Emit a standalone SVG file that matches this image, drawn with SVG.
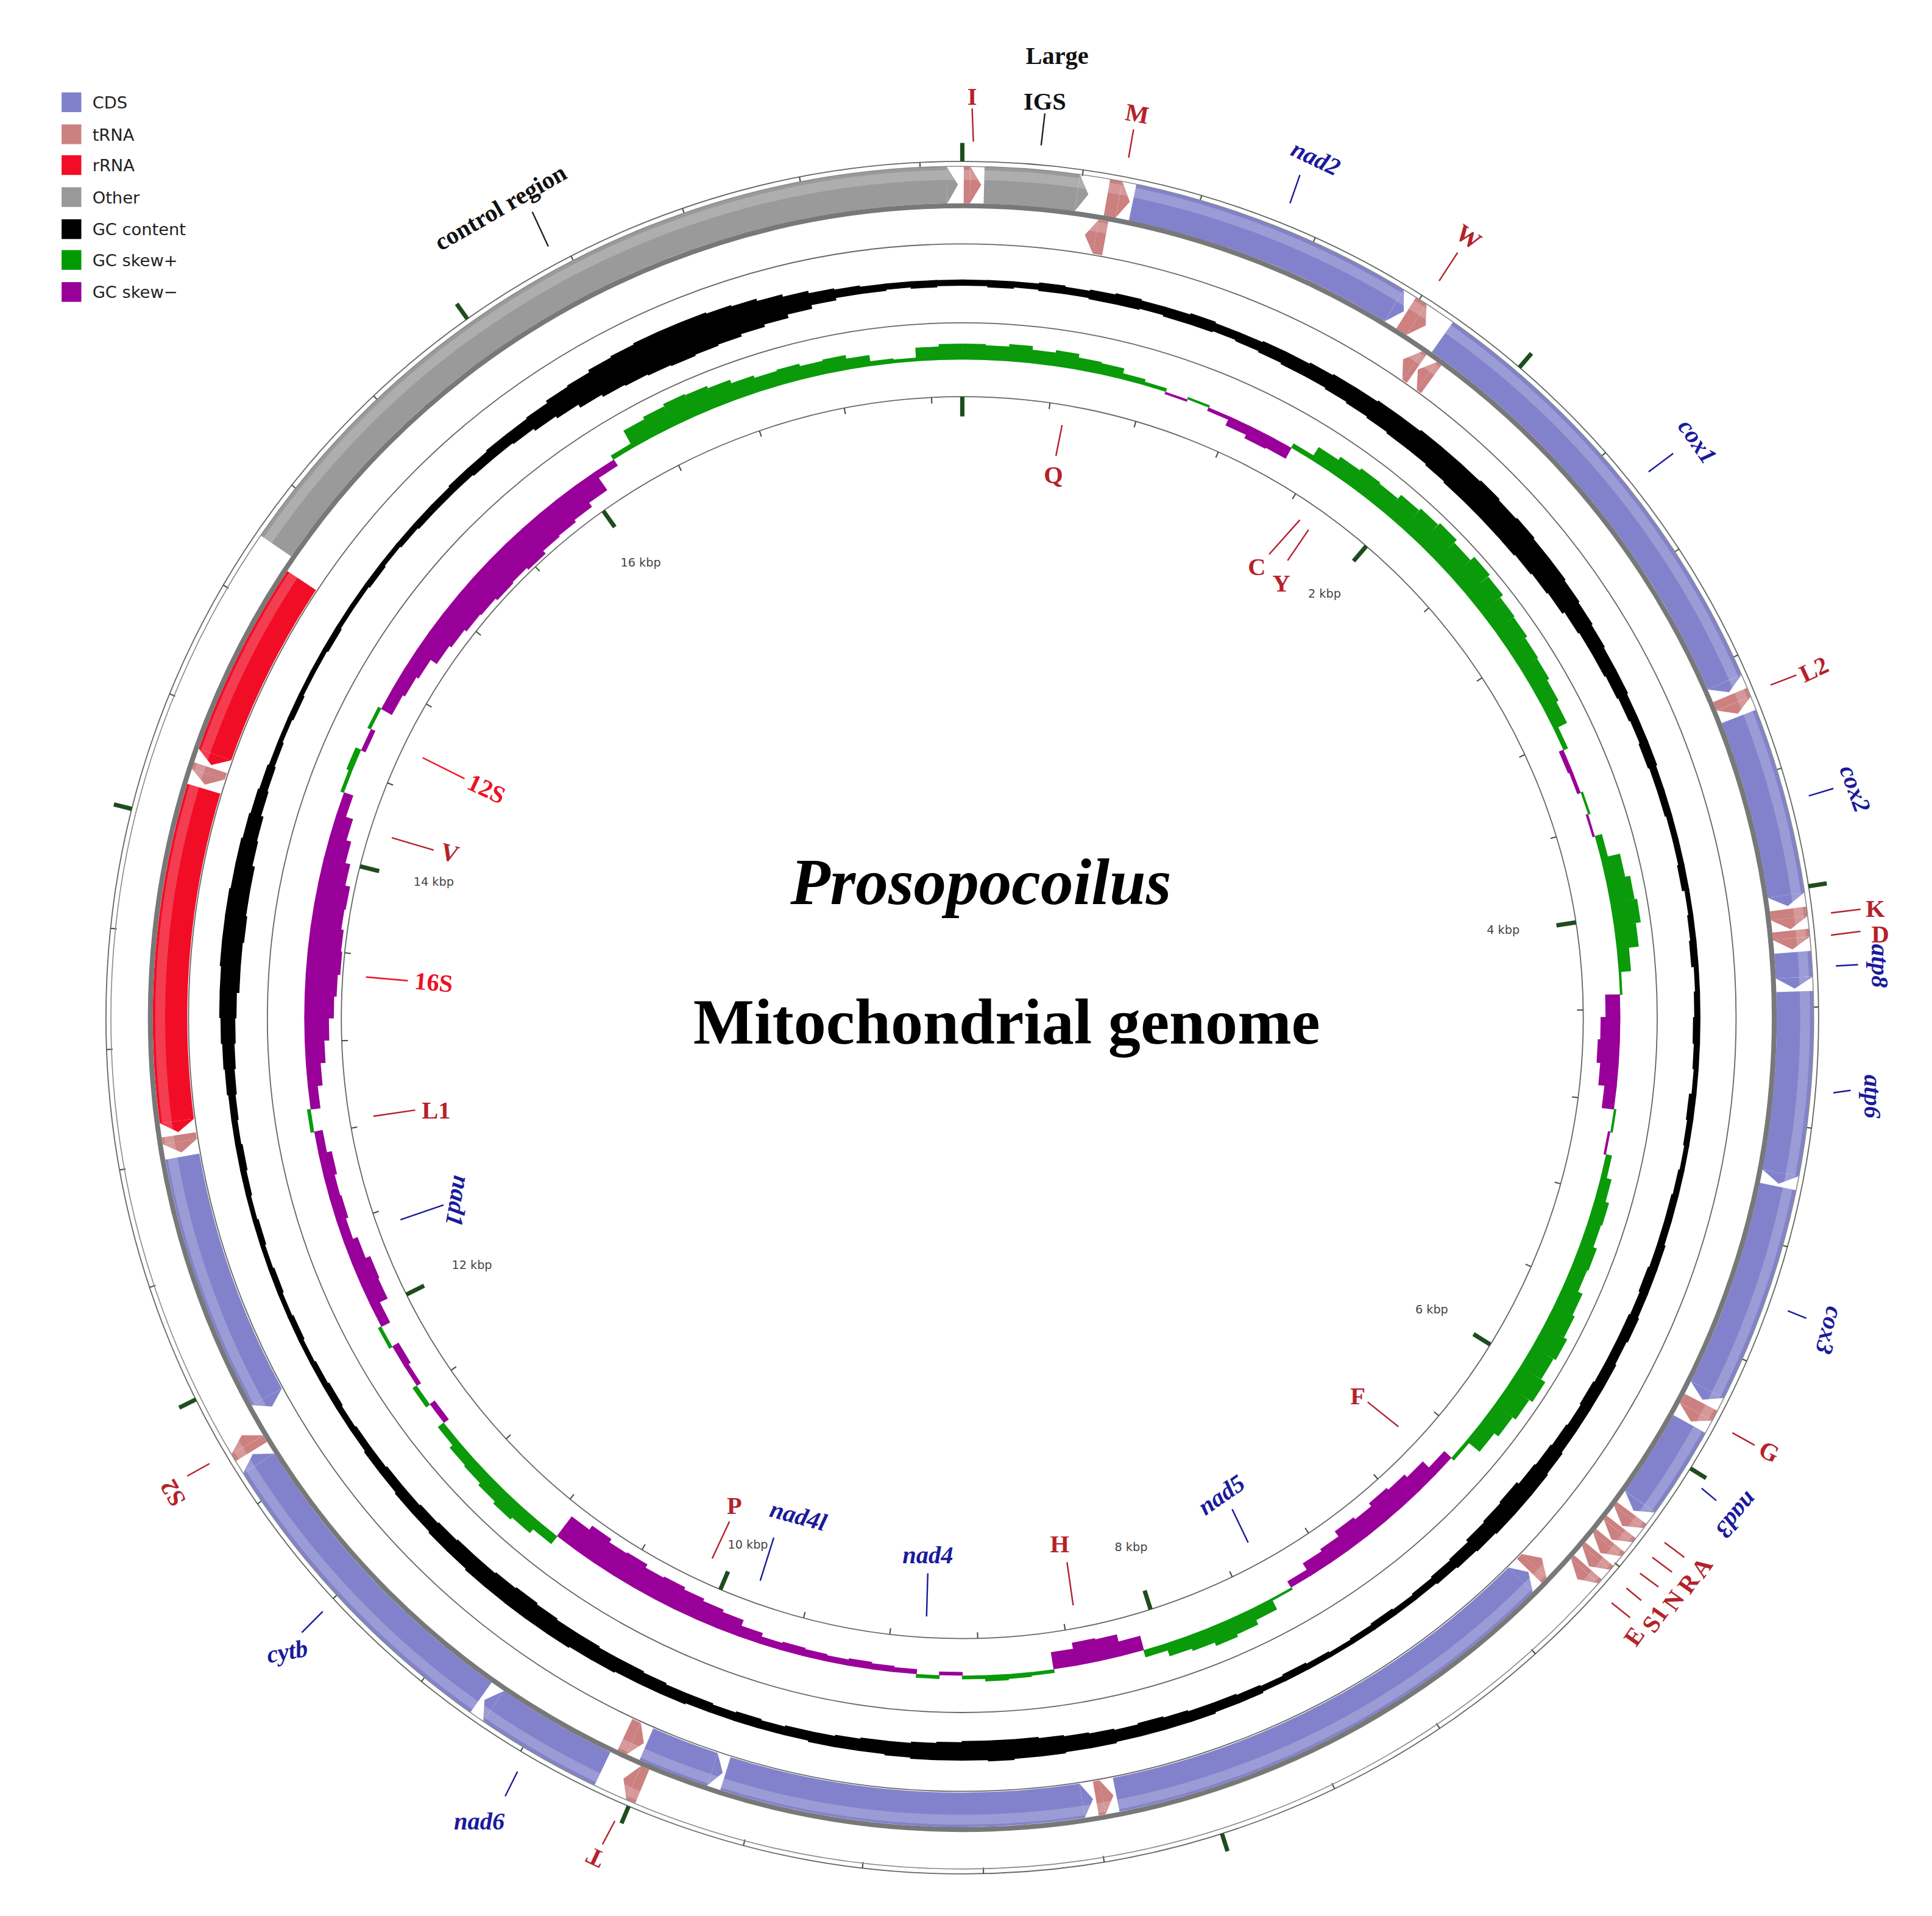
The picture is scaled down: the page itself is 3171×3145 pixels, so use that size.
<svg xmlns="http://www.w3.org/2000/svg" width="3171" height="3145" viewBox="0 0 3171 3145">
<style>
.ring{fill:none;stroke:#666;stroke-width:0.9}
.gc rect{x:-10.8px;width:21.6px;fill:#000}
.sk rect{x:-9.6px;width:19.2px}
.p{fill:#0a9a0a}.m{fill:#990099}
#features circle{fill:none;stroke-width:30}
#features circle.rev{stroke-width:28}
#features circle.cds{stroke:#8282cc}#features circle.trna{stroke:#cc8080}#features circle.rrna{stroke:#f20d26}#features circle.oth{stroke:#9a9a9a}
.cds{fill:#8282cc}.trna{fill:#cc8080}.rrna{fill:#f20d26}.oth{fill:#9a9a9a}
.lb{font-family:"Liberation Serif",serif;font-weight:bold;font-size:20px;text-anchor:middle}
.tr{fill:#b5222b}.cd{fill:#1a1a9c;font-style:italic}.rr{fill:#ee1122}.bk{fill:#111}
.kb{font-family:"DejaVu Sans",sans-serif;font-size:9.5px;fill:#444;text-anchor:middle}
.lg{font-family:"DejaVu Sans",sans-serif;font-size:13.5px;fill:#222}
#connectors line{stroke-width:1.2}
.ct{stroke:#b5222b}.cc{stroke:#1a1a9c}.cr{stroke:#ee1122}.ck{stroke:#222}
.tmaj{stroke:#1d4d1d;stroke-width:3.5}.tmin{stroke:#2d5a2d;stroke-width:1}
</style>
<defs>
<polygon id="tf" points="0,-691 9,-676 0,-661"/>
<polygon id="tr" points="0,-657 -9,-643 0,-629"/>
<line id="imj" class="tmaj" x1="0" y1="-504" x2="0" y2="-488"/>
<line id="imn" class="tmin" x1="0" y1="-504" x2="0" y2="-499"/>
<line id="omj" class="tmaj" x1="0" y1="-695" x2="0" y2="-710"/>
<line id="omn" class="tmin" x1="0" y1="-695" x2="0" y2="-690"/>
</defs>
<rect width="3171" height="3145" fill="#fff"/>
<g transform="scale(2.0223)">
<g id="legend">
<rect x="50" y="75" width="16" height="16" fill="#8080cc"/><text class="lg" x="75" y="88">CDS</text>
<rect x="50" y="101" width="16" height="16" fill="#cc8080"/><text class="lg" x="75" y="114">tRNA</text>
<rect x="50" y="126" width="16" height="16" fill="#f20c26"/><text class="lg" x="75" y="139">rRNA</text>
<rect x="50" y="152" width="16" height="16" fill="#999"/><text class="lg" x="75" y="165">Other</text>
<rect x="50" y="178" width="16" height="16" fill="#000"/><text class="lg" x="75" y="191">GC content</text>
<rect x="50" y="203" width="16" height="16" fill="#009900"/><text class="lg" x="75" y="216">GC skew+</text>
<rect x="50" y="229" width="16" height="16" fill="#990099"/><text class="lg" x="75" y="242">GC skew−</text>
</g>
<g id="rings" transform="translate(781,826)">
<circle class="ring" r="695"/>
<circle class="ring" r="628"/>
<circle class="ring" r="564"/>
<circle class="ring" r="504"/>
</g>
<g id="gc-content" class="gc" transform="translate(781,826)">
<rect transform="rotate(1)" y="-599" height="5"/><rect transform="rotate(3)" y="-599" height="6"/><rect transform="rotate(5)" y="-599" height="5"/><rect transform="rotate(7)" y="-600" height="7"/><rect transform="rotate(9)" y="-599" height="6"/>
<rect transform="rotate(11)" y="-600" height="8"/><rect transform="rotate(13)" y="-601" height="9"/><rect transform="rotate(15)" y="-600" height="7"/><rect transform="rotate(17)" y="-600" height="8"/><rect transform="rotate(19)" y="-601" height="9"/><rect transform="rotate(21)" y="-600" height="7"/><rect transform="rotate(23)" y="-600" height="8"/><rect transform="rotate(25)" y="-601" height="10"/><rect transform="rotate(27)" y="-601" height="11"/><rect transform="rotate(29)" y="-602" height="12"/>
<rect transform="rotate(31)" y="-603" height="14"/><rect transform="rotate(33)" y="-603" height="15"/><rect transform="rotate(35)" y="-604" height="17"/><rect transform="rotate(37)" y="-604" height="18"/><rect transform="rotate(39)" y="-605" height="19"/><rect transform="rotate(41)" y="-605" height="20"/><rect transform="rotate(43)" y="-605" height="21"/><rect transform="rotate(45)" y="-606" height="22"/><rect transform="rotate(47)" y="-605" height="21"/><rect transform="rotate(49)" y="-606" height="22"/><rect transform="rotate(51)" y="-605" height="20"/><rect transform="rotate(53)" y="-605" height="19"/><rect transform="rotate(55)" y="-604" height="17"/>
<rect transform="rotate(57)" y="-603" height="14"/><rect transform="rotate(59)" y="-602" height="12"/><rect transform="rotate(61)" y="-601" height="11"/><rect transform="rotate(63)" y="-601" height="10"/><rect transform="rotate(65)" y="-600" height="8"/><rect transform="rotate(67)" y="-600" height="7"/><rect transform="rotate(69)" y="-600" height="8"/><rect transform="rotate(71)" y="-599" height="6"/><rect transform="rotate(73)" y="-599" height="6"/><rect transform="rotate(75)" y="-599" height="5"/>
<rect transform="rotate(77)" y="-599" height="5"/><rect transform="rotate(79)" y="-599" height="6"/><rect transform="rotate(81)" y="-599" height="4"/><rect transform="rotate(83)" y="-599" height="5"/><rect transform="rotate(85)" y="-599" height="6"/><rect transform="rotate(87)" y="-599" height="4"/><rect transform="rotate(89)" y="-599" height="5"/><rect transform="rotate(91)" y="-599" height="6"/><rect transform="rotate(93)" y="-599" height="5"/><rect transform="rotate(95)" y="-599" height="4"/><rect transform="rotate(97)" y="-599" height="6"/><rect transform="rotate(99)" y="-599" height="5"/><rect transform="rotate(101)" y="-599" height="4"/><rect transform="rotate(103)" y="-599" height="5"/><rect transform="rotate(105)" y="-599" height="6"/>
<rect transform="rotate(107)" y="-599" height="6"/><rect transform="rotate(109)" y="-600" height="7"/><rect transform="rotate(111)" y="-600" height="8"/><rect transform="rotate(113)" y="-600" height="7"/><rect transform="rotate(115)" y="-601" height="9"/><rect transform="rotate(117)" y="-600" height="8"/><rect transform="rotate(119)" y="-601" height="9"/><rect transform="rotate(121)" y="-601" height="10"/><rect transform="rotate(123)" y="-601" height="9"/><rect transform="rotate(125)" y="-601" height="10"/>
<rect transform="rotate(127)" y="-602" height="12"/><rect transform="rotate(129)" y="-603" height="14"/><rect transform="rotate(131)" y="-603" height="16"/><rect transform="rotate(133)" y="-603" height="15"/><rect transform="rotate(135)" y="-602" height="13"/><rect transform="rotate(137)" y="-601" height="10"/><rect transform="rotate(139)" y="-600" height="8"/>
<rect transform="rotate(141)" y="-599" height="6"/><rect transform="rotate(143)" y="-599" height="5"/><rect transform="rotate(145)" y="-599" height="6"/><rect transform="rotate(147)" y="-599" height="5"/><rect transform="rotate(149)" y="-599" height="4"/><rect transform="rotate(151)" y="-599" height="5"/><rect transform="rotate(153)" y="-599" height="6"/><rect transform="rotate(155)" y="-599" height="5"/><rect transform="rotate(157)" y="-600" height="7"/><rect transform="rotate(159)" y="-600" height="8"/><rect transform="rotate(161)" y="-601" height="9"/>
<rect transform="rotate(163)" y="-601" height="10"/><rect transform="rotate(165)" y="-601" height="11"/><rect transform="rotate(167)" y="-601" height="10"/><rect transform="rotate(169)" y="-602" height="12"/><rect transform="rotate(171)" y="-602" height="13"/><rect transform="rotate(173)" y="-603" height="15"/><rect transform="rotate(175)" y="-603" height="16"/><rect transform="rotate(177)" y="-604" height="17"/><rect transform="rotate(179)" y="-603" height="16"/><rect transform="rotate(181)" y="-603" height="15"/><rect transform="rotate(183)" y="-603" height="14"/><rect transform="rotate(185)" y="-602" height="12"/><rect transform="rotate(187)" y="-601" height="11"/><rect transform="rotate(189)" y="-601" height="10"/>
<rect transform="rotate(191)" y="-601" height="9"/><rect transform="rotate(193)" y="-600" height="8"/><rect transform="rotate(195)" y="-600" height="7"/><rect transform="rotate(197)" y="-600" height="8"/><rect transform="rotate(199)" y="-600" height="7"/><rect transform="rotate(201)" y="-600" height="8"/><rect transform="rotate(203)" y="-601" height="9"/><rect transform="rotate(205)" y="-601" height="10"/><rect transform="rotate(207)" y="-601" height="11"/><rect transform="rotate(209)" y="-602" height="12"/><rect transform="rotate(211)" y="-602" height="13"/><rect transform="rotate(213)" y="-603" height="14"/>
<rect transform="rotate(215)" y="-603" height="15"/><rect transform="rotate(217)" y="-603" height="16"/><rect transform="rotate(219)" y="-603" height="15"/><rect transform="rotate(221)" y="-603" height="14"/><rect transform="rotate(223)" y="-602" height="13"/><rect transform="rotate(225)" y="-602" height="12"/><rect transform="rotate(227)" y="-601" height="10"/><rect transform="rotate(229)" y="-601" height="9"/><rect transform="rotate(231)" y="-600" height="8"/><rect transform="rotate(233)" y="-600" height="7"/>
<rect transform="rotate(235)" y="-599" height="6"/><rect transform="rotate(237)" y="-599" height="5"/><rect transform="rotate(239)" y="-599" height="6"/><rect transform="rotate(241)" y="-599" height="5"/><rect transform="rotate(243)" y="-599" height="4"/><rect transform="rotate(245)" y="-599" height="5"/><rect transform="rotate(247)" y="-599" height="4"/><rect transform="rotate(249)" y="-599" height="5"/><rect transform="rotate(251)" y="-599" height="4"/><rect transform="rotate(253)" y="-599" height="5"/><rect transform="rotate(255)" y="-599" height="4"/><rect transform="rotate(257)" y="-599" height="5"/><rect transform="rotate(259)" y="-599" height="6"/><rect transform="rotate(261)" y="-599" height="5"/><rect transform="rotate(263)" y="-599" height="6"/>
<rect transform="rotate(265)" y="-600" height="8"/><rect transform="rotate(267)" y="-601" height="10"/><rect transform="rotate(269)" y="-602" height="12"/><rect transform="rotate(271)" y="-603" height="14"/><rect transform="rotate(273)" y="-603" height="16"/><rect transform="rotate(275)" y="-604" height="17"/><rect transform="rotate(277)" y="-604" height="18"/><rect transform="rotate(279)" y="-604" height="17"/><rect transform="rotate(281)" y="-603" height="16"/><rect transform="rotate(283)" y="-603" height="14"/><rect transform="rotate(285)" y="-602" height="12"/><rect transform="rotate(287)" y="-601" height="9"/><rect transform="rotate(289)" y="-600" height="7"/>
<rect transform="rotate(291)" y="-599" height="5"/><rect transform="rotate(293)" y="-599" height="4"/><rect transform="rotate(295)" y="-599" height="5"/><rect transform="rotate(297)" y="-599" height="4"/><rect transform="rotate(299)" y="-599" height="4"/><rect transform="rotate(301)" y="-599" height="5"/><rect transform="rotate(303)" y="-599" height="4"/><rect transform="rotate(305)" y="-599" height="4"/><rect transform="rotate(307)" y="-599" height="5"/><rect transform="rotate(309)" y="-599" height="4"/><rect transform="rotate(311)" y="-599" height="5"/><rect transform="rotate(313)" y="-599" height="6"/><rect transform="rotate(315)" y="-599" height="6"/><rect transform="rotate(317)" y="-600" height="7"/><rect transform="rotate(319)" y="-600" height="8"/><rect transform="rotate(321)" y="-601" height="9"/><rect transform="rotate(323)" y="-601" height="10"/>
<rect transform="rotate(325)" y="-602" height="13"/><rect transform="rotate(327)" y="-604" height="17"/><rect transform="rotate(329)" y="-605" height="21"/><rect transform="rotate(331)" y="-607" height="25"/><rect transform="rotate(333)" y="-608" height="27"/><rect transform="rotate(335)" y="-609" height="29"/><rect transform="rotate(337)" y="-609" height="30"/><rect transform="rotate(339)" y="-609" height="29"/><rect transform="rotate(341)" y="-608" height="27"/><rect transform="rotate(343)" y="-607" height="24"/><rect transform="rotate(345)" y="-605" height="20"/><rect transform="rotate(347)" y="-603" height="15"/><rect transform="rotate(349)" y="-601" height="10"/><rect transform="rotate(351)" y="-600" height="7"/><rect transform="rotate(353)" y="-599" height="6"/><rect transform="rotate(355)" y="-599" height="5"/><rect transform="rotate(357)" y="-599" height="6"/><rect transform="rotate(359)" y="-599" height="5"/>
</g>
<g id="gc-skew" class="sk" transform="translate(781,826)">
<rect class="p" transform="rotate(1)" y="-547" height="13"/><rect class="p" transform="rotate(3)" y="-546" height="12"/><rect class="p" transform="rotate(5)" y="-548" height="14"/><rect class="p" transform="rotate(7)" y="-545" height="11"/><rect class="p" transform="rotate(9)" y="-547" height="13"/><rect class="p" transform="rotate(11)" y="-544" height="10"/><rect class="p" transform="rotate(13)" y="-543" height="9"/><rect class="p" transform="rotate(15)" y="-539" height="5"/><rect class="p" transform="rotate(17)" y="-537" height="3"/><rect class="m" transform="rotate(19)" y="-534" height="2"/><rect class="p" transform="rotate(21)" y="-536" height="2"/><rect class="m" transform="rotate(23)" y="-534" height="3"/><rect class="m" transform="rotate(25)" y="-534" height="8"/><rect class="m" transform="rotate(27)" y="-534" height="11"/><rect class="m" transform="rotate(29)" y="-534" height="10"/><rect class="p" transform="rotate(31)" y="-538" height="4"/><rect class="p" transform="rotate(33)" y="-546" height="12"/><rect class="p" transform="rotate(35)" y="-549" height="15"/><rect class="p" transform="rotate(37)" y="-551" height="17"/><rect class="p" transform="rotate(39)" y="-550" height="16"/><rect class="p" transform="rotate(41)" y="-554" height="20"/><rect class="p" transform="rotate(43)" y="-556" height="22"/><rect class="p" transform="rotate(45)" y="-558" height="24"/><rect class="p" transform="rotate(47)" y="-555" height="21"/><rect class="p" transform="rotate(49)" y="-559" height="25"/><rect class="p" transform="rotate(51)" y="-557" height="23"/><rect class="p" transform="rotate(53)" y="-554" height="20"/><rect class="p" transform="rotate(55)" y="-553" height="19"/><rect class="p" transform="rotate(57)" y="-551" height="17"/><rect class="p" transform="rotate(59)" y="-550" height="16"/><rect class="p" transform="rotate(61)" y="-548" height="14"/><rect class="p" transform="rotate(63)" y="-546" height="12"/><rect class="p" transform="rotate(65)" y="-538" height="4"/><rect class="m" transform="rotate(67)" y="-534" height="4"/><rect class="m" transform="rotate(69)" y="-534" height="3"/><rect class="p" transform="rotate(71)" y="-536" height="2"/><rect class="m" transform="rotate(73)" y="-534" height="2"/><rect class="p" transform="rotate(75)" y="-540" height="6"/><rect class="p" transform="rotate(77)" y="-550" height="16"/><rect class="p" transform="rotate(79)" y="-554" height="20"/><rect class="p" transform="rotate(81)" y="-556" height="22"/><rect class="p" transform="rotate(83)" y="-552" height="18"/><rect class="p" transform="rotate(85)" y="-544" height="10"/><rect class="p" transform="rotate(87)" y="-536" height="2"/><rect class="m" transform="rotate(89)" y="-534" height="12"/><rect class="m" transform="rotate(91)" y="-534" height="16"/><rect class="m" transform="rotate(93)" y="-534" height="18"/><rect class="m" transform="rotate(95)" y="-534" height="15"/><rect class="m" transform="rotate(97)" y="-534" height="10"/><rect class="p" transform="rotate(99)" y="-536" height="2"/><rect class="m" transform="rotate(101)" y="-534" height="2"/><rect class="p" transform="rotate(103)" y="-539" height="5"/><rect class="p" transform="rotate(105)" y="-543" height="9"/><rect class="p" transform="rotate(107)" y="-546" height="12"/><rect class="p" transform="rotate(109)" y="-545" height="11"/><rect class="p" transform="rotate(111)" y="-548" height="14"/><rect class="p" transform="rotate(113)" y="-547" height="13"/><rect class="p" transform="rotate(115)" y="-551" height="17"/><rect class="p" transform="rotate(117)" y="-553" height="19"/><rect class="p" transform="rotate(119)" y="-556" height="22"/><rect class="p" transform="rotate(121)" y="-554" height="20"/><rect class="p" transform="rotate(123)" y="-558" height="24"/><rect class="p" transform="rotate(125)" y="-555" height="21"/><rect class="p" transform="rotate(127)" y="-552" height="18"/><rect class="p" transform="rotate(129)" y="-548" height="14"/><rect class="p" transform="rotate(131)" y="-537" height="3"/><rect class="m" transform="rotate(133)" y="-534" height="8"/><rect class="m" transform="rotate(135)" y="-534" height="15"/><rect class="m" transform="rotate(137)" y="-534" height="18"/><rect class="m" transform="rotate(139)" y="-534" height="20"/><rect class="m" transform="rotate(141)" y="-534" height="17"/><rect class="m" transform="rotate(143)" y="-534" height="19"/><rect class="m" transform="rotate(145)" y="-534" height="14"/><rect class="m" transform="rotate(147)" y="-534" height="12"/><rect class="m" transform="rotate(149)" y="-534" height="6"/><rect class="p" transform="rotate(151)" y="-536" height="2"/><rect class="p" transform="rotate(153)" y="-544" height="10"/><rect class="p" transform="rotate(155)" y="-548" height="14"/><rect class="p" transform="rotate(157)" y="-550" height="16"/><rect class="p" transform="rotate(159)" y="-547" height="13"/><rect class="p" transform="rotate(161)" y="-545" height="11"/><rect class="p" transform="rotate(163)" y="-540" height="6"/><rect class="m" transform="rotate(165)" y="-534" height="12"/><rect class="m" transform="rotate(167)" y="-534" height="18"/><rect class="m" transform="rotate(169)" y="-534" height="19"/><rect class="m" transform="rotate(171)" y="-534" height="14"/><rect class="p" transform="rotate(173)" y="-537" height="3"/><rect class="p" transform="rotate(175)" y="-538" height="4"/><rect class="p" transform="rotate(177)" y="-539" height="5"/><rect class="p" transform="rotate(179)" y="-537" height="3"/><rect class="m" transform="rotate(181)" y="-534" height="3"/><rect class="p" transform="rotate(183)" y="-537" height="3"/><rect class="m" transform="rotate(185)" y="-534" height="4"/><rect class="m" transform="rotate(187)" y="-534" height="5"/><rect class="m" transform="rotate(189)" y="-534" height="6"/><rect class="m" transform="rotate(191)" y="-534" height="5"/><rect class="m" transform="rotate(193)" y="-534" height="6"/><rect class="m" transform="rotate(195)" y="-534" height="7"/><rect class="m" transform="rotate(197)" y="-534" height="6"/><rect class="m" transform="rotate(199)" y="-534" height="9"/><rect class="m" transform="rotate(201)" y="-534" height="14"/><rect class="m" transform="rotate(203)" y="-534" height="16"/><rect class="m" transform="rotate(205)" y="-534" height="18"/><rect class="m" transform="rotate(207)" y="-534" height="20"/><rect class="m" transform="rotate(209)" y="-534" height="19"/><rect class="m" transform="rotate(211)" y="-534" height="22"/><rect class="m" transform="rotate(213)" y="-534" height="21"/><rect class="m" transform="rotate(215)" y="-534" height="24"/><rect class="m" transform="rotate(217)" y="-534" height="20"/><rect class="p" transform="rotate(219)" y="-542" height="8"/><rect class="p" transform="rotate(221)" y="-546" height="12"/><rect class="p" transform="rotate(223)" y="-548" height="14"/><rect class="p" transform="rotate(225)" y="-546" height="12"/><rect class="p" transform="rotate(227)" y="-544" height="10"/><rect class="p" transform="rotate(229)" y="-543" height="9"/><rect class="p" transform="rotate(231)" y="-540" height="6"/><rect class="m" transform="rotate(233)" y="-534" height="5"/><rect class="p" transform="rotate(235)" y="-538" height="4"/><rect class="m" transform="rotate(237)" y="-534" height="4"/><rect class="m" transform="rotate(239)" y="-534" height="6"/><rect class="p" transform="rotate(241)" y="-537" height="3"/><rect class="m" transform="rotate(243)" y="-534" height="8"/><rect class="m" transform="rotate(245)" y="-534" height="15"/><rect class="m" transform="rotate(247)" y="-534" height="16"/><rect class="m" transform="rotate(249)" y="-534" height="12"/><rect class="m" transform="rotate(251)" y="-534" height="8"/><rect class="m" transform="rotate(253)" y="-534" height="10"/><rect class="m" transform="rotate(255)" y="-534" height="9"/><rect class="m" transform="rotate(257)" y="-534" height="11"/><rect class="m" transform="rotate(259)" y="-534" height="7"/><rect class="p" transform="rotate(261)" y="-537" height="3"/><rect class="m" transform="rotate(263)" y="-534" height="8"/><rect class="m" transform="rotate(265)" y="-534" height="12"/><rect class="m" transform="rotate(267)" y="-534" height="16"/><rect class="m" transform="rotate(269)" y="-534" height="20"/><rect class="m" transform="rotate(271)" y="-534" height="24"/><rect class="m" transform="rotate(273)" y="-534" height="26"/><rect class="m" transform="rotate(275)" y="-534" height="28"/><rect class="m" transform="rotate(277)" y="-534" height="27"/><rect class="m" transform="rotate(279)" y="-534" height="25"/><rect class="m" transform="rotate(281)" y="-534" height="26"/><rect class="m" transform="rotate(283)" y="-534" height="22"/><rect class="m" transform="rotate(285)" y="-534" height="18"/><rect class="m" transform="rotate(287)" y="-534" height="14"/><rect class="m" transform="rotate(289)" y="-534" height="8"/><rect class="p" transform="rotate(291)" y="-537" height="3"/><rect class="p" transform="rotate(293)" y="-539" height="5"/><rect class="m" transform="rotate(295)" y="-534" height="4"/><rect class="p" transform="rotate(297)" y="-537" height="3"/><rect class="m" transform="rotate(299)" y="-534" height="10"/><rect class="m" transform="rotate(301)" y="-534" height="12"/><rect class="m" transform="rotate(303)" y="-534" height="14"/><rect class="m" transform="rotate(305)" y="-534" height="20"/><rect class="m" transform="rotate(307)" y="-534" height="22"/><rect class="m" transform="rotate(309)" y="-534" height="24"/><rect class="m" transform="rotate(311)" y="-534" height="25"/><rect class="m" transform="rotate(313)" y="-534" height="27"/><rect class="m" transform="rotate(315)" y="-534" height="26"/><rect class="m" transform="rotate(317)" y="-534" height="28"/><rect class="m" transform="rotate(319)" y="-534" height="25"/><rect class="m" transform="rotate(321)" y="-534" height="24"/><rect class="m" transform="rotate(323)" y="-534" height="22"/><rect class="m" transform="rotate(325)" y="-534" height="18"/><rect class="m" transform="rotate(327)" y="-534" height="6"/><rect class="p" transform="rotate(329)" y="-538" height="4"/><rect class="p" transform="rotate(331)" y="-550" height="16"/><rect class="p" transform="rotate(333)" y="-552" height="18"/><rect class="p" transform="rotate(335)" y="-554" height="20"/><rect class="p" transform="rotate(337)" y="-553" height="19"/><rect class="p" transform="rotate(339)" y="-551" height="17"/><rect class="p" transform="rotate(341)" y="-548" height="14"/><rect class="p" transform="rotate(343)" y="-546" height="12"/><rect class="p" transform="rotate(345)" y="-547" height="13"/><rect class="p" transform="rotate(347)" y="-545" height="11"/><rect class="p" transform="rotate(349)" y="-546" height="12"/><rect class="p" transform="rotate(351)" y="-543" height="9"/><rect class="p" transform="rotate(353)" y="-538" height="4"/><rect class="p" transform="rotate(355)" y="-537" height="3"/><rect class="p" transform="rotate(357)" y="-545" height="11"/><rect class="p" transform="rotate(359)" y="-547" height="13"/>
</g>
<g id="ticks-inner" transform="translate(781,826)">
<use href="#imj"/><use href="#imj" transform="rotate(40.59)"/><use href="#imj" transform="rotate(81.17)"/><use href="#imj" transform="rotate(121.76)"/><use href="#imj" transform="rotate(162.35)"/><use href="#imj" transform="rotate(202.93)"/><use href="#imj" transform="rotate(243.52)"/><use href="#imj" transform="rotate(284.11)"/><use href="#imj" transform="rotate(324.69)"/>
<use href="#imn" transform="rotate(8.12)"/><use href="#imn" transform="rotate(16.23)"/><use href="#imn" transform="rotate(24.35)"/><use href="#imn" transform="rotate(32.47)"/><use href="#imn" transform="rotate(48.7)"/><use href="#imn" transform="rotate(56.82)"/><use href="#imn" transform="rotate(64.94)"/><use href="#imn" transform="rotate(73.06)"/><use href="#imn" transform="rotate(89.29)"/><use href="#imn" transform="rotate(97.41)"/><use href="#imn" transform="rotate(105.52)"/><use href="#imn" transform="rotate(113.64)"/><use href="#imn" transform="rotate(129.88)"/><use href="#imn" transform="rotate(137.99)"/><use href="#imn" transform="rotate(146.11)"/><use href="#imn" transform="rotate(154.23)"/><use href="#imn" transform="rotate(170.46)"/><use href="#imn" transform="rotate(178.58)"/><use href="#imn" transform="rotate(186.7)"/><use href="#imn" transform="rotate(194.81)"/><use href="#imn" transform="rotate(211.05)"/><use href="#imn" transform="rotate(219.17)"/><use href="#imn" transform="rotate(227.28)"/><use href="#imn" transform="rotate(235.4)"/><use href="#imn" transform="rotate(251.64)"/><use href="#imn" transform="rotate(259.75)"/><use href="#imn" transform="rotate(267.87)"/><use href="#imn" transform="rotate(275.99)"/><use href="#imn" transform="rotate(292.22)"/><use href="#imn" transform="rotate(300.34)"/><use href="#imn" transform="rotate(308.46)"/><use href="#imn" transform="rotate(316.57)"/><use href="#imn" transform="rotate(332.81)"/><use href="#imn" transform="rotate(340.93)"/><use href="#imn" transform="rotate(349.04)"/><use href="#imn" transform="rotate(357.16)"/>
</g>
<g id="ticks-outer" transform="translate(781,826)">
<use href="#omj"/><use href="#omj" transform="rotate(40.59)"/><use href="#omj" transform="rotate(81.17)"/><use href="#omj" transform="rotate(121.76)"/><use href="#omj" transform="rotate(162.35)"/><use href="#omj" transform="rotate(202.93)"/><use href="#omj" transform="rotate(243.52)"/><use href="#omj" transform="rotate(284.11)"/><use href="#omj" transform="rotate(324.69)"/>
<use href="#omn" transform="rotate(8.12)"/><use href="#omn" transform="rotate(16.23)"/><use href="#omn" transform="rotate(24.35)"/><use href="#omn" transform="rotate(32.47)"/><use href="#omn" transform="rotate(48.7)"/><use href="#omn" transform="rotate(56.82)"/><use href="#omn" transform="rotate(64.94)"/><use href="#omn" transform="rotate(73.06)"/><use href="#omn" transform="rotate(89.29)"/><use href="#omn" transform="rotate(97.41)"/><use href="#omn" transform="rotate(105.52)"/><use href="#omn" transform="rotate(113.64)"/><use href="#omn" transform="rotate(129.88)"/><use href="#omn" transform="rotate(137.99)"/><use href="#omn" transform="rotate(146.11)"/><use href="#omn" transform="rotate(154.23)"/><use href="#omn" transform="rotate(170.46)"/><use href="#omn" transform="rotate(178.58)"/><use href="#omn" transform="rotate(186.7)"/><use href="#omn" transform="rotate(194.81)"/><use href="#omn" transform="rotate(211.05)"/><use href="#omn" transform="rotate(219.17)"/><use href="#omn" transform="rotate(227.28)"/><use href="#omn" transform="rotate(235.4)"/><use href="#omn" transform="rotate(251.64)"/><use href="#omn" transform="rotate(259.75)"/><use href="#omn" transform="rotate(267.87)"/><use href="#omn" transform="rotate(275.99)"/><use href="#omn" transform="rotate(292.22)"/><use href="#omn" transform="rotate(300.34)"/><use href="#omn" transform="rotate(308.46)"/><use href="#omn" transform="rotate(316.57)"/><use href="#omn" transform="rotate(332.81)"/><use href="#omn" transform="rotate(340.93)"/><use href="#omn" transform="rotate(349.04)"/><use href="#omn" transform="rotate(357.16)"/>
</g>
<g id="features" transform="translate(781,826)">
<g id="control-region"><circle class="oth" r="676" pathLength="360" stroke-dasharray="54.44 999" transform="rotate(214.5)"/><use href="#tf" class="oth" transform="rotate(358.94)"/></g>
<g id="trnI"><circle class="trna" r="676" pathLength="360" stroke-dasharray="0.44 999" transform="rotate(-89.9)"/><use href="#tf" class="trna" transform="rotate(0.54)"/></g>
<g id="large-IGS"><circle class="oth" r="676" pathLength="360" stroke-dasharray="6.44 999" transform="rotate(-88.5)"/><use href="#tf" class="oth" transform="rotate(7.94)"/></g>
<g id="trnM"><circle class="trna" r="676" pathLength="360" stroke-dasharray="0.84 999" transform="rotate(-80)"/><use href="#tf" class="trna" transform="rotate(10.84)"/></g>
<g id="trnQ"><circle class="trna rev" r="643" pathLength="360" stroke-dasharray="0.7 999" transform="rotate(-80.3)"/><use href="#tr" class="trna" transform="rotate(9.7)"/></g>
<g id="nad2"><circle class="cds" r="676" pathLength="360" stroke-dasharray="19.44 999" transform="rotate(-78.2)"/><use href="#tf" class="cds" transform="rotate(31.24)"/></g>
<g id="trnW"><circle class="trna" r="676" pathLength="360" stroke-dasharray="0.84 999" transform="rotate(-57.8)"/><use href="#tf" class="trna" transform="rotate(33.04)"/></g>
<g id="trnC"><circle class="trna rev" r="643" pathLength="360" stroke-dasharray="0.4 999" transform="rotate(-55.4)"/><use href="#tr" class="trna" transform="rotate(34.6)"/></g>
<g id="trnY"><circle class="trna rev" r="643" pathLength="360" stroke-dasharray="0.4 999" transform="rotate(-54.1)"/><use href="#tr" class="trna" transform="rotate(35.9)"/></g>
<g id="cox1"><circle class="cds" r="676" pathLength="360" stroke-dasharray="31.04 999" transform="rotate(-54.8)"/><use href="#tf" class="cds" transform="rotate(66.24)"/></g>
<g id="trnL2"><circle class="trna" r="676" pathLength="360" stroke-dasharray="0.64 999" transform="rotate(-22.8)"/><use href="#tf" class="trna" transform="rotate(67.84)"/></g>
<g id="cox2"><circle class="cds" r="676" pathLength="360" stroke-dasharray="12.74 999" transform="rotate(-21.2)"/><use href="#tf" class="cds" transform="rotate(81.54)"/></g>
<g id="trnK"><circle class="trna" r="676" pathLength="360" stroke-dasharray="0.64 999" transform="rotate(-7.5)"/><use href="#tf" class="trna" transform="rotate(83.14)"/></g>
<g id="trnD"><circle class="trna" r="676" pathLength="360" stroke-dasharray="0.54 999" transform="rotate(-6)"/><use href="#tf" class="trna" transform="rotate(84.54)"/></g>
<g id="atp8"><circle class="cds" r="676" pathLength="360" stroke-dasharray="1.74 999" transform="rotate(-4.5)"/><use href="#tf" class="cds" transform="rotate(87.24)"/></g>
<g id="atp6"><circle class="cds" r="676" pathLength="360" stroke-dasharray="12.54 999" transform="rotate(-1.8)"/><use href="#tf" class="cds" transform="rotate(100.74)"/></g>
<g id="cox3"><circle class="cds" r="676" pathLength="360" stroke-dasharray="14.84 999" transform="rotate(11.7)"/><use href="#tf" class="cds" transform="rotate(116.54)"/></g>
<g id="trnG"><circle class="trna" r="676" pathLength="360" stroke-dasharray="0.74 999" transform="rotate(27.5)"/><use href="#tf" class="trna" transform="rotate(118.24)"/></g>
<g id="nad3"><circle class="cds" r="676" pathLength="360" stroke-dasharray="6.34 999" transform="rotate(29.2)"/><use href="#tf" class="cds" transform="rotate(125.54)"/></g>
<g id="trnA"><circle class="trna" r="676" pathLength="360" stroke-dasharray="0.34 999" transform="rotate(36.5)"/><use href="#tf" class="trna" transform="rotate(126.84)"/></g>
<g id="trnR"><circle class="trna" r="676" pathLength="360" stroke-dasharray="0.34 999" transform="rotate(37.7)"/><use href="#tf" class="trna" transform="rotate(128.04)"/></g>
<g id="trnN"><circle class="trna" r="676" pathLength="360" stroke-dasharray="0.34 999" transform="rotate(38.9)"/><use href="#tf" class="trna" transform="rotate(129.24)"/></g>
<g id="trnS1"><circle class="trna" r="676" pathLength="360" stroke-dasharray="0.34 999" transform="rotate(40.1)"/><use href="#tf" class="trna" transform="rotate(130.44)"/></g>
<g id="trnE"><circle class="trna" r="676" pathLength="360" stroke-dasharray="0.34 999" transform="rotate(41.3)"/><use href="#tf" class="trna" transform="rotate(131.64)"/></g>
<g id="trnF"><circle class="trna rev" r="643" pathLength="360" stroke-dasharray="0.5 999" transform="rotate(43.8)"/><use href="#tr" class="trna" transform="rotate(133.8)"/></g>
<g id="nad5"><circle class="cds rev" r="643" pathLength="360" stroke-dasharray="33.6 999" transform="rotate(45.2)"/><use href="#tr" class="cds" transform="rotate(135.2)"/></g>
<g id="trnH"><circle class="trna rev" r="643" pathLength="360" stroke-dasharray="0.5 999" transform="rotate(79.8)"/><use href="#tr" class="trna" transform="rotate(169.8)"/></g>
<g id="nad4"><circle class="cds rev" r="643" pathLength="360" stroke-dasharray="26.1 999" transform="rotate(81.3)"/><use href="#tr" class="cds" transform="rotate(171.3)"/></g>
<g id="nad4l"><circle class="cds rev" r="643" pathLength="360" stroke-dasharray="5.1 999" transform="rotate(108.4)"/><use href="#tr" class="cds" transform="rotate(198.4)"/></g>
<g id="trnT"><circle class="trna" r="676" pathLength="360" stroke-dasharray="0.64 999" transform="rotate(112.6)"/><use href="#tf" class="trna" transform="rotate(203.24)"/></g>
<g id="trnP"><circle class="trna rev" r="643" pathLength="360" stroke-dasharray="0.7 999" transform="rotate(114.5)"/><use href="#tr" class="trna" transform="rotate(204.5)"/></g>
<g id="nad6"><circle class="cds" r="676" pathLength="360" stroke-dasharray="8.64 999" transform="rotate(115.6)"/><use href="#tf" class="cds" transform="rotate(214.24)"/></g>
<g id="cytb"><circle class="cds" r="676" pathLength="360" stroke-dasharray="22.34 999" transform="rotate(125.3)"/><use href="#tf" class="cds" transform="rotate(237.64)"/></g>
<g id="trnS2"><circle class="trna" r="676" pathLength="360" stroke-dasharray="0.54 999" transform="rotate(148.6)"/><use href="#tf" class="trna" transform="rotate(239.14)"/></g>
<g id="nad1"><circle class="cds rev" r="643" pathLength="360" stroke-dasharray="18.5 999" transform="rotate(151.4)"/><use href="#tr" class="cds" transform="rotate(241.4)"/></g>
<g id="trnL1"><circle class="trna rev" r="643" pathLength="360" stroke-dasharray="0.5 999" transform="rotate(171)"/><use href="#tr" class="trna" transform="rotate(261)"/></g>
<g id="rrnL"><circle class="rrna rev" r="643" pathLength="360" stroke-dasharray="24.3 999" transform="rotate(172.5)"/><use href="#tr" class="rrna" transform="rotate(262.5)"/></g>
<g id="trnV"><circle class="trna rev" r="643" pathLength="360" stroke-dasharray="0.5 999" transform="rotate(197.9)"/><use href="#tr" class="trna" transform="rotate(287.9)"/></g>
<g id="rrnS"><circle class="rrna rev" r="643" pathLength="360" stroke-dasharray="14.1 999" transform="rotate(199.4)"/><use href="#tr" class="rrna" transform="rotate(289.4)"/></g>
</g>
<g id="backbone" transform="translate(781,826)" fill="none">
<circle r="684" stroke="#fff" stroke-opacity="0.2" stroke-width="8"/>
<circle r="651" stroke="#fff" stroke-opacity="0.2" stroke-width="8"/>
<circle r="691" stroke="#8a8a8a" stroke-width="0.8"/>
<circle r="659" stroke="#787878" stroke-width="4"/>
</g>
<g id="connectors">
<line class="ck" x1="848" y1="92" x2="845" y2="118"/>
<line class="ct" x1="789" y1="88" x2="790" y2="115"/>
<line class="ct" x1="920" y1="105" x2="916" y2="128"/>
<line class="cc" x1="1055" y1="142" x2="1047" y2="165"/>
<line class="ct" x1="1183" y1="205" x2="1168" y2="228"/>
<line class="cc" x1="1358" y1="368" x2="1338" y2="383"/>
<line class="ct" x1="1458" y1="548" x2="1437" y2="556"/>
<line class="cc" x1="1488" y1="640" x2="1468" y2="646"/>
<line class="ct" x1="1510" y1="738" x2="1486" y2="741"/>
<line class="ct" x1="1510" y1="756" x2="1486" y2="759"/>
<line class="cc" x1="1508" y1="783" x2="1490" y2="784"/>
<line class="cc" x1="1502" y1="885" x2="1488" y2="887"/>
<line class="cc" x1="1466" y1="1070" x2="1451" y2="1064"/>
<line class="ct" x1="1424" y1="1173" x2="1406" y2="1163"/>
<line class="cc" x1="1393" y1="1218" x2="1381" y2="1208"/>
<line class="ct" x1="1351" y1="1252" x2="1367" y2="1264"/>
<line class="ct" x1="1341" y1="1264" x2="1357" y2="1276"/>
<line class="ct" x1="1331" y1="1277" x2="1346" y2="1288"/>
<line class="ct" x1="1320" y1="1289" x2="1332" y2="1299"/>
<line class="ct" x1="1308" y1="1301" x2="1323" y2="1313"/>
<line class="ct" x1="1110" y1="1138" x2="1135" y2="1158"/>
<line class="cc" x1="1000" y1="1225" x2="1013" y2="1252"/>
<line class="ct" x1="866" y1="1268" x2="871" y2="1303"/>
<line class="cc" x1="753" y1="1277" x2="752" y2="1312"/>
<line class="cc" x1="628" y1="1248" x2="617" y2="1283"/>
<line class="ct" x1="592" y1="1235" x2="578" y2="1265"/>
<line class="cc" x1="245" y1="1325" x2="262" y2="1308"/>
<line class="cc" x1="410" y1="1458" x2="420" y2="1438"/>
<line class="ct" x1="489" y1="1497" x2="499" y2="1478"/>
<line class="ct" x1="152" y1="1198" x2="170" y2="1188"/>
<line class="ck" x1="432" y1="172" x2="445" y2="200"/>
<line class="cr" x1="343" y1="615" x2="377" y2="632"/>
<line class="ct" x1="318" y1="680" x2="352" y2="690"/>
<line class="cr" x1="297" y1="793" x2="331" y2="796"/>
<line class="ct" x1="303" y1="906" x2="337" y2="901"/>
<line class="cc" x1="325" y1="990" x2="360" y2="978"/>
<line class="ct" x1="862" y1="345" x2="857" y2="370"/>
<line class="ct" x1="1030" y1="450" x2="1055" y2="422"/>
<line class="ct" x1="1045" y1="455" x2="1062" y2="430"/>
</g>
<g id="labels" class="lb">
<text class="bk" x="858" y="52">Large</text>
<text class="bk" x="848" y="89">IGS</text>
<text class="tr" x="789" y="85">I</text>
<text class="tr" transform="translate(923,92) rotate(10)" dy="7">M</text>
<text class="cd" transform="translate(1068,128) rotate(25)" dy="7">nad2</text>
<text class="tr" transform="translate(1192,192) rotate(35)" dy="7">W</text>
<text class="cd" transform="translate(1378,358) rotate(55)" dy="7">cox1</text>
<text class="tr" transform="translate(1472,543) rotate(-25)" dy="7">L2</text>
<text class="cd" transform="translate(1506,640) rotate(70)" dy="7">cox2</text>
<text class="tr" x="1522" y="744">K</text>
<text class="tr" x="1526" y="765">D</text>
<text class="cd" transform="translate(1526,784) rotate(90)" dy="7">atp8</text>
<text class="cd" transform="translate(1520,890) rotate(90)" dy="7">atp6</text>
<text class="cd" transform="translate(1485,1080) rotate(105)" dy="7">cox3</text>
<text class="tr" transform="translate(1436,1178) rotate(25)" dy="7">G</text>
<text class="cd" transform="translate(1410,1230) rotate(130)" dy="7">nad3</text>
<text class="tr" transform="translate(1381,1272) rotate(-55)" dy="7">A</text>
<text class="tr" transform="translate(1370,1285) rotate(-55)" dy="7">R</text>
<text class="tr" transform="translate(1358,1299) rotate(-55)" dy="7">N</text>
<text class="tr" transform="translate(1343,1314) rotate(-55)" dy="7">S1</text>
<text class="tr" transform="translate(1326,1328) rotate(-55)" dy="7">E</text>
<text class="tr" x="1102" y="1140">F</text>
<text class="cd" transform="translate(991,1213) rotate(-35)" dy="7">nad5</text>
<text class="tr" x="860" y="1260">H</text>
<text class="cd" x="753" y="1269">nad4</text>
<text class="cd" transform="translate(648,1230) rotate(15)" dy="7">nad4l</text>
<text class="tr" x="596" y="1229">P</text>
<text class="cd" transform="translate(233,1340) rotate(-10)" dy="7">cytb</text>
<text class="cd" x="389" y="1485">nad6</text>
<text class="tr" transform="translate(483,1508) rotate(-155)" dy="7">T</text>
<text class="tr" transform="translate(140,1212) rotate(-120)" dy="7">S2</text>
<text class="bk" transform="translate(406,168) rotate(-30)" dy="7">control region</text>
<text class="rr" transform="translate(395,640) rotate(25)" dy="7">12S</text>
<text class="tr" transform="translate(365,692) rotate(15)" dy="7">V</text>
<text class="rr" transform="translate(352,797) rotate(5)" dy="7">16S</text>
<text class="tr" x="354" y="908">L1</text>
<text class="cd" transform="translate(372,975) rotate(100)" dy="7">nad1</text>
<text class="tr" x="855" y="392">Q</text>
<text class="tr" x="1020" y="467">C</text>
<text class="tr" x="1040" y="480">Y</text>
</g>
<g id="kbp-labels" class="kb">
<text x="520" y="460">16 kbp</text><text x="1075" y="485">2 kbp</text><text x="1220" y="758">4 kbp</text><text x="1162" y="1066">6 kbp</text><text x="918" y="1259">8 kbp</text><text x="607" y="1257">10 kbp</text><text x="383" y="1030">12 kbp</text><text x="352" y="719">14 kbp</text>
</g>
<g id="title" font-family="'Liberation Serif',serif" font-weight="bold" text-anchor="middle" fill="#000">
<text x="796" y="734" font-size="53" font-style="italic">Prosopocoilus</text>
<text x="817" y="847" font-size="52.5">Mitochondrial genome</text>
</g>
</g>
</svg>
